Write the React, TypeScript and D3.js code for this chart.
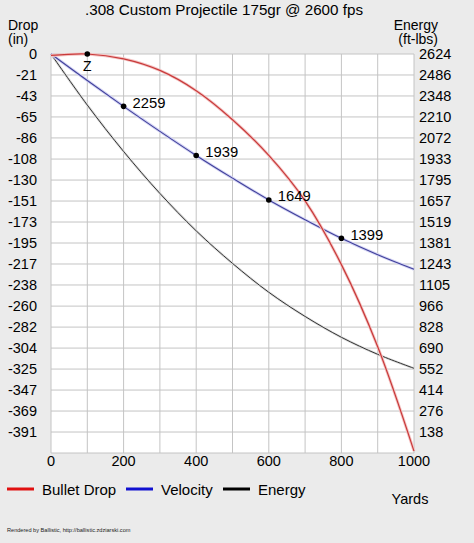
import React from 'react';
import * as d3 from 'd3';

const W = 474;
const H = 543;

const yards = [0, 100, 200, 300, 400, 500, 600, 700, 800, 900, 1000];
const bulletDrop = [-1.5, 0, -5, -17, -38, -68, -105, -152, -218, -303, -411];
const velocity = [2600, 2427, 2259, 2096, 1939, 1791, 1649, 1520, 1399, 1292, 1197];
const energy = [2624, 2288, 1983, 1707, 1461, 1247, 1057, 898, 761, 649, 557];

const dropLabels = ['0', '-21', '-43', '-65', '-86', '-108', '-130', '-151', '-173', '-195', '-217', '-238', '-260', '-282', '-304', '-325', '-347', '-369', '-391'];
const energyTicks = [2624, 2486, 2348, 2210, 2072, 1933, 1795, 1657, 1519, 1381, 1243, 1105, 966, 828, 690, 552, 414, 276, 138];
const xLabelTicks = [0, 200, 400, 600, 800, 1000];
const markedYards = [200, 400, 600, 800];
const zeroYard = 100;

const legend = [
    { name: 'Bullet Drop', color: '#e01010' },
    { name: 'Velocity', color: '#1010d0' },
    { name: 'Energy', color: '#000000' },
];

const FONT = '"Liberation Sans", Arial, sans-serif';

const App = () => {
    const left = 51;
    const right = 414;
    const top = 54;
    const bottom = 453;

    const x = d3.scaleLinear([0, 1000], [left, right]);
    const yDrop = d3.scaleLinear([-413, 0], [bottom, top]);
    const yVel = d3.scaleLinear([0, 2600], [bottom, top]);
    const yEnergy = d3.scaleLinear([0, 2624], [bottom, top]);

    const pts = (vals: number[]) => yards.map((yd, i) => [yd, vals[i]] as [number, number]);
    const curve = d3.curveCatmullRom.alpha(0.5);

    const dropD = d3.line<[number, number]>().x(d => x(d[0])).y(d => yDrop(d[1])).curve(curve)(pts(bulletDrop)) || '';
    const velD = d3.line<[number, number]>().x(d => x(d[0])).y(d => yVel(d[1])).curve(curve)(pts(velocity)) || '';
    const energyD = d3.line<[number, number]>().x(d => x(d[0])).y(d => yEnergy(d[1])).curve(curve)(pts(energy)) || '';

    return (
        <svg
            width={W}
            height={H}
            style={{ position: 'absolute', left: 0, top: 0, fontFamily: FONT }}
        >
            <rect width={W} height={H} fill='#ebebeb' />
            <text x={224} y={15} textAnchor='middle' fontSize={15.2} fill='#000'>
                .308 Custom Projectile 175gr @ 2600 fps
            </text>
            <text x={8} y={29.5} fontSize={14}>Drop</text>
            <text x={8} y={44} fontSize={14}>(in)</text>
            <text x={438} y={29.5} fontSize={14} textAnchor='end'>Energy</text>
            <text x={438} y={44} fontSize={14} textAnchor='end'>(ft-lbs)</text>

            <rect x={left} y={top} width={right - left} height={bottom - top} fill='#fff' />
            {/* grid */}
            <g stroke='#c4c4c4' strokeWidth={1}>
                {yards.map(yd => (
                    <line key={'v' + yd} x1={x(yd)} x2={x(yd)} y1={top} y2={bottom} />
                ))}
                {energyTicks.concat([0]).map(e => (
                    <line key={'h' + e} x1={left} x2={right} y1={yEnergy(e)} y2={yEnergy(e)} />
                ))}
            </g>

            {/* axis labels */}
            {dropLabels.map((lab, i) => (
                <text key={'dl' + lab} x={37} y={yEnergy(energyTicks[i]) + 5} textAnchor='end' fontSize={14.5}>
                    {lab}
                </text>
            ))}
            {energyTicks.map(e => (
                <text key={'el' + e} x={419} y={yEnergy(e) + 5} fontSize={14.5}>
                    {e}
                </text>
            ))}
            {xLabelTicks.map(t => (
                <text key={'xl' + t} x={x(t)} y={466} textAnchor='middle' fontSize={14.5}>
                    {t}
                </text>
            ))}

            {/* curves */}
            <path d={energyD} fill='none' stroke='#dcdcdc' strokeWidth={2.5} />
            <path d={energyD} fill='none' stroke='#333' strokeWidth={1} />
            <path d={velD} fill='none' stroke='#d4d4f4' strokeWidth={3} />
            <path d={velD} fill='none' stroke='#40409a' strokeWidth={1.1} />
            <path d={dropD} fill='none' stroke='#f4c6c6' strokeWidth={3} />
            <path d={dropD} fill='none' stroke='#c83a3a' strokeWidth={1.2} />

            {/* zero marker */}
            <circle cx={x(zeroYard)} cy={yDrop(0)} r={2.8} fill='#000' />
            <text x={x(zeroYard)} y={yDrop(0) + 17} textAnchor='middle' fontSize={14}>Z</text>

            {/* velocity markers */}
            {markedYards.map(yd => {
                const v = velocity[yards.indexOf(yd)];
                return (
                    <g key={'m' + yd}>
                        <circle cx={x(yd)} cy={yVel(v)} r={2.8} fill='#000' />
                        <text x={x(yd) + 9} y={yVel(v) + 1.5} fontSize={14.8}>{v}</text>
                    </g>
                );
            })}

            {/* legend */}
            {legend.map((l, i) => {
                const lx = [7, 126, 223][i];
                return (
                    <g key={l.name}>
                        <line x1={lx} x2={lx + 27} y1={489} y2={489} stroke={l.color} strokeWidth={3} />
                        <text x={lx + 35} y={494.5} fontSize={15}>{l.name}</text>
                    </g>
                );
            })}
            <text x={410} y={504} textAnchor='middle' fontSize={14.5}>Yards</text>
            <text x={7} y={532} fontSize={5.6} fill='#222'>
                Rendered by Ballistic, http://ballistic.zdziarski.com
            </text>
        </svg>
    );
};

export default App;
